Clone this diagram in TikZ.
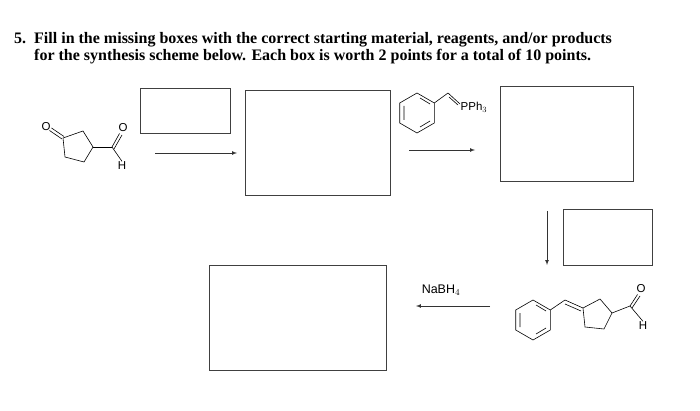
\documentclass[tikz,border=0pt]{standalone}
\usepackage{fontspec}
\usetikzlibrary{calc}
\setmainfont{Liberation Serif}
\newfontfamily\lab{Liberation Sans}
\begin{document}
\begin{tikzpicture}[x=1pt,y=-1pt,
  ans/.style={draw=black!75,line width=0.8pt},
  rxn/.style={draw=black!80,line width=0.7pt,-latex},
  bnd/.style={line width=0.6pt},
  lbl/.style={font=\lab\fontsize{11.5}{13}\selectfont,inner sep=0.5pt}]
\useasboundingbox (0,0) rectangle (700,411);
\node[anchor=west,align=left,font=\bfseries\fontsize{16}{17}\selectfont,inner sep=0pt] (title) at (14,48)
 {5.\ \ Fill in the missing boxes with the correct starting material, reagents, and/or products\\
 \phantom{5.\ \ }for the synthesis scheme below. Each box is worth 2 points for a total of 10 points.};
% boxes
\draw[ans] (140,88) rectangle (230,133);
\draw[ans] (245,90) rectangle (390,195);
\draw[ans] (500,86) rectangle (633,181);
\draw[ans] (563,209) rectangle (652,265);
\draw[ans] (209,265) rectangle (386,370);
% arrows
\coordinate (a1) at (155,153); \coordinate (a2) at (237,153);
\coordinate (b1) at (409,150); \coordinate (b2) at (475,150);
\coordinate (c1) at (547,211); \coordinate (c2) at (547,265);
\coordinate (d1) at (490,306); \coordinate (d2) at (416,306);
\draw[rxn] (a1)--(a2); \draw[rxn] (b1)--(b2); \draw[rxn] (c1)--(c2); \draw[rxn] (d1)--(d2);
\node[lbl,font=\lab\fontsize{12.5}{14}\selectfont] (nabh) at (441,290) {NaBH$_4$};
% starting material
\coordinate (r1) at (63,138); \coordinate (r2) at (83,131); \coordinate (r3) at (93,147);
\coordinate (r4) at (84,162); \coordinate (r5) at (65,157);
\draw[bnd] (r1)--(r2)--(r3)--(r4)--(r5)--cycle;
\node[lbl] (o1) at (46,127) {O};
\draw[bnd] ($(r1)+(-1,1)$)--(49.5,130.5); \draw[bnd] ($(r1)+(1,-1.5)$)--(51.5,128);
\coordinate (cho) at (112,147);
\draw[bnd] (r3)--(cho);
\node[lbl] (o2) at (123,128) {O};
\node[lbl] (h1) at (122,166) {H};
\draw[bnd] (cho)--(119.5,133.5); \draw[bnd] (114,149)--(122,135);
\draw[bnd] (cho)--(h1.north);
% ylide
\draw[bnd] (417,93)--(434.3,103)--(434.3,123)--(417,133)--(399.7,123)--(399.7,103)--cycle;
\draw[bnd] (420,98)--(430,104) (430,121)--(420,127) (404,120)--(404,106);
\draw[bnd] (434.3,103)--(448,93);
\draw[bnd] (448,93)--(460,104); \draw[bnd] (449,97)--(458,105);
\node[lbl,anchor=west] (pph) at (460,107) {PPh$_3$};
% product
\draw[bnd] (533,300)--(550.3,310)--(550.3,330)--(533,340)--(515.7,330)--(515.7,310)--cycle;
\draw[bnd] (536,305)--(546,311) (546,328)--(536,334) (520,327)--(520,313);
\draw[bnd] (550.3,310)--(565,300);
\coordinate (p1) at (583,308); \coordinate (p2) at (600,299); \coordinate (p3) at (612,313);
\coordinate (p4) at (604,329); \coordinate (p5) at (585,327);
\draw[bnd] (565,300)--(p1); \draw[bnd] (565,304)--(581,311);
\draw[bnd] (p1)--(p2)--(p3)--(p4)--(p5)--cycle;
\coordinate (cho2) at (630,306);
\draw[bnd] (p3)--(cho2);
\node[lbl] (o3) at (641,289) {O};
\node[lbl] (h2) at (643,326) {H};
\draw[bnd] (cho2)--(637.5,294.5); \draw[bnd] (632,308)--(640,296);
\draw[bnd] (cho2)--(h2.north);
\end{tikzpicture}
\end{document}
